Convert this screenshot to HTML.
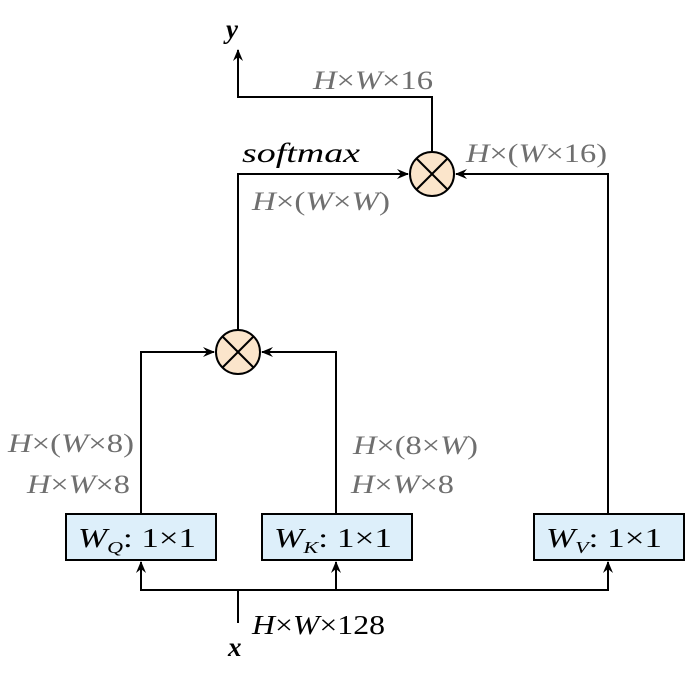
<!DOCTYPE html>
<html><head><meta charset="utf-8"><style>
body{margin:0;background:#fff}
svg{display:block}
.g{fill:#6f6f6f;font-family:"Liberation Serif",serif;font-size:26px}
.b{fill:#000;font-family:"Liberation Serif",serif;font-size:27px}
</style></head><body>
<svg width="697" height="673" viewBox="0 0 697 673" xmlns="http://www.w3.org/2000/svg">
<defs><marker id="a" markerWidth="12" markerHeight="10" refX="11" refY="5" orient="auto" markerUnits="userSpaceOnUse"><path d="M0,0 L12,5 L0,10 L4,5z" fill="#000"/></marker></defs>
<g stroke="#000" stroke-width="2" fill="none">
<polyline points="238,623 238,590"/>
<polyline points="238,590 141,590 141,562" marker-end="url(#a)"/>
<polyline points="238,590 336,590 336,562" marker-end="url(#a)"/>
<polyline points="336,590 608,590 608,562" marker-end="url(#a)"/>
<polyline points="141,514 141,352 214,352" marker-end="url(#a)"/>
<polyline points="336,514 336,352 262,352" marker-end="url(#a)"/>
<polyline points="238,330 238,174 408,174" marker-end="url(#a)"/>
<polyline points="608,514 608,174 456,174" marker-end="url(#a)"/>
<polyline points="432,152 432,97 238,97 238,50" marker-end="url(#a)"/>
</g>
<g stroke="#000" stroke-width="2">
<circle cx="238" cy="352" r="22" fill="#fbe5cb"/>
<line x1="222" y1="336" x2="254" y2="368"/><line x1="254" y1="336" x2="222" y2="368"/>
<circle cx="432" cy="174" r="22" fill="#fbe5cb"/>
<line x1="416" y1="158" x2="448" y2="190"/><line x1="448" y1="158" x2="416" y2="190"/>
<rect x="66" y="514" width="150" height="46" fill="#ddeffa"/>
<rect x="262" y="514" width="150" height="46" fill="#ddeffa"/>
<rect x="534" y="514" width="150" height="46" fill="#ddeffa"/>
</g>
<text class="b" x="78" y="547" textLength="118" lengthAdjust="spacingAndGlyphs"><tspan font-style="italic">W</tspan><tspan font-style="italic" font-size="17" dy="6">Q</tspan><tspan dy="-6">: 1×1</tspan></text>
<text class="b" x="274" y="547" textLength="118" lengthAdjust="spacingAndGlyphs"><tspan font-style="italic">W</tspan><tspan font-style="italic" font-size="17" dy="6">K</tspan><tspan dy="-6">: 1×1</tspan></text>
<text class="b" x="546" y="547" textLength="116" lengthAdjust="spacingAndGlyphs"><tspan font-style="italic">W</tspan><tspan font-style="italic" font-size="17" dy="6">V</tspan><tspan dy="-6">: 1×1</tspan></text>
<text class="b" x="226" y="38" font-style="italic" font-weight="bold" font-size="36">y</text>
<text class="b" x="228" y="656" font-style="italic" font-weight="bold" font-size="36">x</text>
<text class="b" x="252" y="634" font-size="26" textLength="133" lengthAdjust="spacingAndGlyphs"><tspan font-style="italic">H</tspan>×<tspan font-style="italic">W</tspan>×128</text>
<text class="b" x="242" y="162" font-style="italic" font-size="28" textLength="118" lengthAdjust="spacingAndGlyphs">softmax</text>
<text class="g" x="313" y="89" textLength="120" lengthAdjust="spacingAndGlyphs"><tspan font-style="italic">H</tspan>×<tspan font-style="italic">W</tspan>×16</text>
<text class="g" x="466" y="162" textLength="141" lengthAdjust="spacingAndGlyphs"><tspan font-style="italic">H</tspan>×(<tspan font-style="italic">W</tspan>×16)</text>
<text class="g" x="252" y="210" textLength="138" lengthAdjust="spacingAndGlyphs"><tspan font-style="italic">H</tspan>×(<tspan font-style="italic">W</tspan>×<tspan font-style="italic">W</tspan>)</text>
<text class="g" x="8" y="452" textLength="126" lengthAdjust="spacingAndGlyphs"><tspan font-style="italic">H</tspan>×(<tspan font-style="italic">W</tspan>×8)</text>
<text class="g" x="27" y="493" textLength="103" lengthAdjust="spacingAndGlyphs"><tspan font-style="italic">H</tspan>×<tspan font-style="italic">W</tspan>×8</text>
<text class="g" x="353" y="454" textLength="125" lengthAdjust="spacingAndGlyphs"><tspan font-style="italic">H</tspan>×(8×<tspan font-style="italic">W</tspan>)</text>
<text class="g" x="351" y="493" textLength="103" lengthAdjust="spacingAndGlyphs"><tspan font-style="italic">H</tspan>×<tspan font-style="italic">W</tspan>×8</text>
</svg>
</body></html>
